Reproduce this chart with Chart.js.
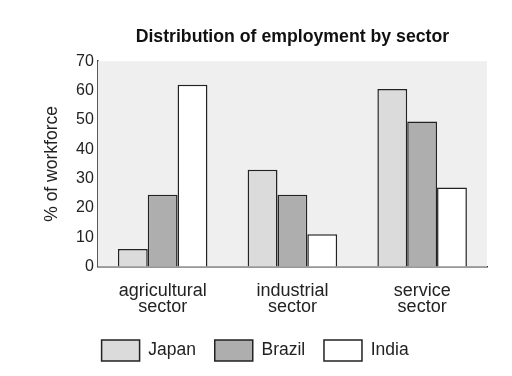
<!DOCTYPE html>
<html>
<head>
<meta charset="utf-8">
<script src="https://cdn.jsdelivr.net/npm/chart.js@4/dist/chart.umd.min.js"></script>
<style>
  html, body { margin: 0; padding: 0; background: #fff; }
  #wrap { width: 512px; height: 376px; }
</style>
</head>
<body>
<div id="wrap"><canvas id="bar_chart"></canvas></div>
<script>
// data
const sectors = [['agricultural', 'sector'], ['industrial', 'sector'], ['service', 'sector']];
const japan = [6, 33, 60.5];
const brazil = [24.5, 24.5, 49.5];
const india = [62, 11, 27];
const yTicks = [0, 10, 20, 30, 40, 50, 60, 70];

// light grey panel behind the bars
const plotBg = {
    id: 'plotBg',
    beforeDatasetsDraw(chart) {
        const a = chart.chartArea;
        const ctx = chart.ctx;
        ctx.save();
        ctx.fillStyle = '#efefef';
        ctx.fillRect(a.left, a.top, a.right - a.left, a.bottom - a.top);
        ctx.restore();
    }
};

const font = 'Liberation Sans, Arial, sans-serif';

new Chart(document.getElementById('bar_chart'), {
    type: 'bar',
    data: {
        labels: sectors,
        datasets: [
            { label: 'Japan', data: japan, backgroundColor: '#dbdbdb' },
            { label: 'Brazil', data: brazil, backgroundColor: '#aeaeae' },
            { label: 'India', data: india, backgroundColor: '#ffffff' }
        ].map(d => Object.assign(d, {
            borderColor: '#222',
            borderWidth: 1.5,
            categoryPercentage: 0.69,
            barPercentage: 1.0
        }))
    },
    options: {
        responsive: true,
        maintainAspectRatio: false,
        animation: false,
        layout: { padding: { left: 33, right: 25, top: 26, bottom: 5 } },
        plugins: {
            title: {
                display: true,
                fullSize: false,
                text: 'Distribution of employment by sector',
                color: '#111',
                font: { family: font, size: 17.7, weight: 'bold' },
                padding: { top: 0, bottom: 14 }
            },
            legend: {
                position: 'bottom',
                labels: {
                    boxWidth: 38,
                    boxHeight: 21,
                    color: '#222',
                    padding: 9,
                    font: { family: font, size: 17.5 },
                    // small padding keeps the legend low; trailing spaces keep the items apart
                    generateLabels(chart) {
                        const items = Chart.defaults.plugins.legend.labels.generateLabels(chart);
                        items.forEach(it => { it.text = it.text + '  '; });
                        return items;
                    }
                }
            },
            tooltip: { enabled: false }
        },
        scales: {
            x: {
                grid: { display: false, drawTicks: false },
                border: { display: true, color: '#333', width: 1.5 },
                ticks: {
                    color: '#222',
                    padding: 16,
                    font: { family: font, size: 18, lineHeight: 0.9 }
                }
            },
            y: {
                min: 0,
                max: 70,
                afterBuildTicks(axis) { axis.ticks = yTicks.map(v => ({ value: v })); },
                grid: { display: false, drawTicks: false },
                border: { display: true, color: '#333', width: 1.5 },
                ticks: {
                    color: '#222',
                    padding: 4,
                    font: { family: font, size: 16 }
                },
                title: {
                    display: true,
                    text: '% of workforce',
                    color: '#222',
                    padding: 9,
                    font: { family: font, size: 17.5 }
                }
            }
        }
    },
    plugins: [plotBg]
});
</script>
</body>
</html>
